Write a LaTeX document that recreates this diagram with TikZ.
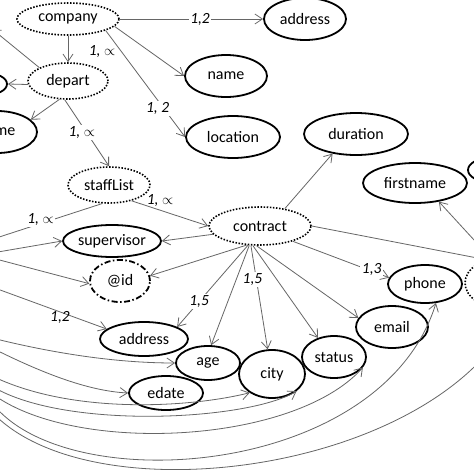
\documentclass[tikz,border=0pt]{standalone}
\usepackage{fontspec}
\setmainfont{Carlito}
\usetikzlibrary{shapes.geometric,arrows.meta}
\tikzset{
  entbox/.style={ellipse,draw=black,line width=1.8pt,inner sep=0pt,font=\fontsize{16}{18}\selectfont},
  relbox/.style={entbox,line width=1.6pt,dash pattern=on 1.5pt off 1.6pt},
  idbox/.style={entbox,line width=1.8pt,dash pattern=on 6pt off 2.5pt on 1.5pt off 2.5pt},
  sz/.style 2 args={minimum width=#1pt,minimum height=#2pt},
  conn/.style={draw=black!60,line width=0.8pt,-{Straight Barb[length=7.5pt,width=10pt]}},
  lbl/.style={font=\fontsize{15.5}{17}\selectfont\itshape,inner sep=1.5pt}
}
\begin{document}
\begin{tikzpicture}[x=1pt,y=-1pt]
\path[use as bounding box] (0,0) rectangle (474,474);
\fill[white] (0,0) rectangle (474,474);
\clip (0,0) rectangle (474,474);

% nodes
\node[relbox,sz={102}{32}] (company) at (68,19) {company};
\node[entbox,sz={82}{42}] (addr1) at (305,19) {address};
\node[relbox,sz={80}{36}] (depart) at (68,81) {depart};
\node[entbox,sz={82}{42}] (name1) at (226,76) {name};
\node[entbox,sz={94}{42}] (location) at (233,137) {location};
\node[entbox,sz={104}{42}] (duration) at (356,134) {duration};
\node[entbox,sz={80}{42}] (name2) at (-3,132) {name};
\node[entbox,sz={42}{22}] (sm) at (-14,84) {};
\node[relbox,sz={82}{36}] (staffList) at (109,185) {staffList};
\node[relbox,sz={102}{38}] (contract) at (260,226) {contract};
\node[entbox,sz={104}{40}] (firstname) at (415,183) {firstname};
\node[entbox,sz={44}{24}] (tr) at (490,170) {};
\node[relbox,sz={80}{52}] (rd) at (505,283) {};
\node[entbox,sz={98}{32}] (supervisor) at (112,241) {supervisor};
\node[idbox,sz={60}{42}] (id) at (120,281) {@id};
\node[entbox,sz={88}{34}] (address2) at (144,339) {address};
\node[entbox,sz={64}{34}] (age) at (208,363) {age};
\node[entbox,sz={74}{34}] (edate) at (166,393) {edate};
\node[entbox,sz={66}{48}] (city) at (272,374) {city};
\node[entbox,sz={64}{42}] (status) at (334,357) {status};
\node[entbox,sz={72}{42}] (email) at (392,327) {email};
\node[entbox,sz={74}{38}] (phone) at (425,284) {phone};

% free ends outside the picture
\coordinate (Ldep) at (-8,29);
\coordinate (Lstaff) at (-10,240);
\coordinate (Lsup) at (-8,253);
\coordinate (Lid) at (-8,258);
\coordinate (Laddr) at (-8,287);
\coordinate (Lage) at (-8,338);
\coordinate (Ledate) at (-8,348);
\coordinate (C1s) at (-10,375);
\coordinate (C2s) at (-10,385);
\coordinate (C3s) at (-10,392);
\coordinate (C4s) at (-10,400);
\coordinate (C5s) at (-10,410);
\coordinate (Rend) at (490,350);

% connectors
\draw[conn] (company) -- node[lbl,fill=white,pos=.56]{1,2} (addr1);
\draw[conn] (company) -- (depart);
\node[lbl] (lcd) at (102,52) {1, $\propto$};
\draw[conn] (company.-9) -- (name1.west);
\draw[conn] (company.-17) -- node[lbl,fill=white,pos=.73,xshift=-6pt]{1, 2} (location.west);
\draw[conn] (depart.155) -- (Ldep);
\draw[conn] (depart.185) -- (sm.east);
\draw[conn] (depart.-115) -- (name2.20);
\draw[conn] (depart.-100) -- node[lbl,fill=white,pos=.5,xshift=-5pt]{1, $\propto$} (staffList.north);
\draw[conn] (staffList.-35) -- (contract.west);
\node[lbl] (lsc) at (160,201) {1, $\propto$};
\draw[conn] (staffList.-110) -- node[lbl,fill=white,pos=.55,yshift=4pt]{1, $\propto$} (Lstaff);
\draw[conn] (contract.190) -- (supervisor.east);
\draw[conn] (Lsup) -- (supervisor.west);
\draw[conn] (contract.-125) -- (id.10);
\draw[conn] (Lid) -- (id.185);
\draw[conn] (Laddr) -- (address2.165);
\node[lbl] (lla) at (60,317) {1,2};
\draw[conn] (contract.-122) -- node[lbl,fill=white,pos=.69]{1,5} (address2.20);
\draw[conn] (contract.-119) -- (age.80);
\draw[conn] (contract.-115) -- node[lbl,fill=white,pos=.33,xshift=-4pt]{1,5} (city.100);
\draw[conn] (contract.-110) -- (status.130);
\draw[conn] (contract.-100) -- (email.165);
\draw[conn] (contract.-25) -- node[lbl,fill=white,pos=.82,yshift=2pt]{1,3} (phone.170);
\draw[conn] (contract.35) -- (duration.-140);
\draw[conn] (contract.east) -- (rd.130);
\draw[conn] (rd.120) -- (firstname.-38);

% curved connectors from the left
\draw[conn] (Lage) .. controls +(60,15) and +(-60,0) .. (age.west);
\draw[conn] (Ledate) .. controls +(50,25) and +(-40,-2) .. (edate.west);
\draw[conn] (C1s) .. controls +(80,40) and +(-60,15) .. (city.-140);
\draw[conn] (C2s) .. controls +(70,45) and +(-50,30) .. (city.-35);
\draw[conn] (C3s) .. controls +(80,63) and +(-70,78) .. (status.-20);
\draw[conn] (C4s) .. controls +(70,100) and +(-55,177) .. (phone.-60);
\draw[conn] (C5s) .. controls +(90,100) and +(-110,130) .. (Rend);
\end{tikzpicture}
\end{document}
